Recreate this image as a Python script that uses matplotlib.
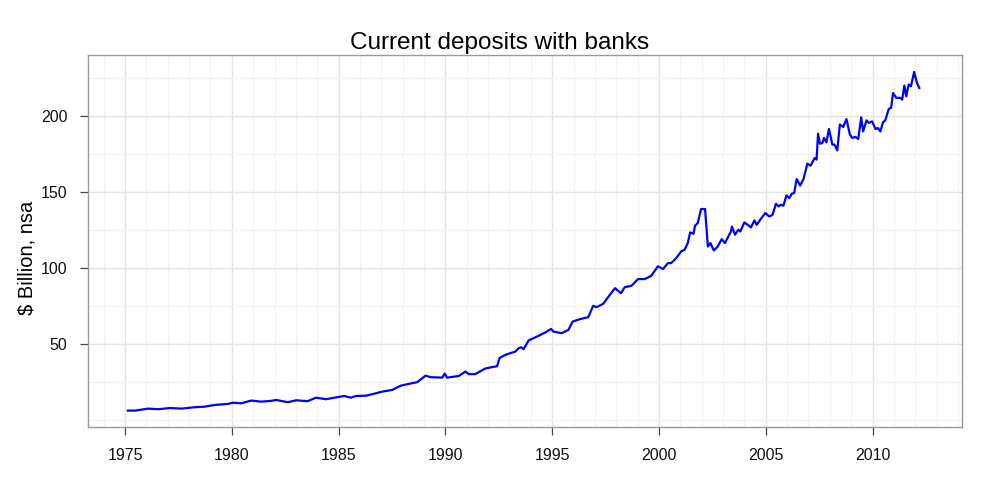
import matplotlib
matplotlib.use("Agg")
import matplotlib.pyplot as plt
from matplotlib.ticker import MultipleLocator

plt.rcParams['font.family'] = ['Liberation Sans', 'DejaVu Sans']

title = "Current deposits with banks"
y_label = "$ Billion, nsa"
x_ticks = [1975, 1980, 1985, 1990, 1995, 2000, 2005, 2010]
y_ticks = [50, 100, 150, 200]

years = [
    1975.13, 1975.47, 1976.09, 1976.55, 1977.10, 1977.64, 1978.26, 1978.73,
    1979.20, 1979.82, 1980.05, 1980.44, 1980.91, 1981.38, 1981.84, 1982.08,
    1982.62, 1983.01, 1983.55, 1983.94, 1984.41, 1984.80, 1985.27, 1985.57,
    1985.81, 1986.27, 1986.58, 1987.05, 1987.51, 1987.91, 1988.29, 1988.68,
    1989.07, 1989.31, 1989.85, 1989.97, 1990.08, 1990.63, 1990.94, 1991.09,
    1991.40, 1991.87, 1992.18, 1992.42, 1992.54, 1992.81, 1993.04, 1993.27,
    1993.43, 1993.55, 1993.66, 1993.90, 1994.28, 1994.67, 1994.95, 1995.06,
    1995.44, 1995.76, 1995.96, 1996.30, 1996.69, 1996.92, 1997.08, 1997.39,
    1997.70, 1997.94, 1998.22, 1998.40, 1998.71, 1999.02, 1999.33, 1999.64,
    1999.95, 2000.19, 2000.42, 2000.57, 2000.81, 2001.04, 2001.20, 2001.35,
    2001.46, 2001.62, 2001.69, 2001.82, 2001.97, 2002.16, 2002.29, 2002.41,
    2002.57, 2002.75, 2002.94, 2003.09, 2003.37, 2003.42, 2003.56, 2003.72,
    2003.81, 2004.00, 2004.31, 2004.47, 2004.58, 2004.74, 2004.98, 2005.16,
    2005.32, 2005.48, 2005.60, 2005.70, 2005.83, 2005.97, 2006.10, 2006.22,
    2006.33, 2006.45, 2006.61, 2006.77, 2006.95, 2007.10, 2007.29, 2007.38,
    2007.45, 2007.54, 2007.65, 2007.73, 2007.84, 2007.96, 2008.12, 2008.22,
    2008.35, 2008.47, 2008.63, 2008.78, 2008.94, 2009.05, 2009.20, 2009.33,
    2009.47, 2009.56, 2009.72, 2009.83, 2009.98, 2010.14, 2010.25, 2010.37,
    2010.49, 2010.60, 2010.76, 2010.87, 2010.96, 2011.11, 2011.30, 2011.39,
    2011.49, 2011.58, 2011.69, 2011.80, 2011.95, 2012.08, 2012.19,
]

deposits = [
    6.3, 6.3, 7.6, 7.2, 8.0, 7.6, 8.5, 8.9,
    10.0, 10.7, 11.5, 11.1, 12.9, 12.2, 12.7, 13.3,
    11.8, 13.1, 12.5, 14.8, 13.8, 14.8, 15.9, 14.8,
    15.9, 16.1, 17.1, 18.8, 19.9, 22.7, 23.9, 25.0,
    29.3, 28.3, 28.0, 30.6, 28.0, 29.1, 32.0, 30.3,
    30.3, 34.0, 34.9, 35.5, 41.0, 43.0, 44.1, 45.1,
    47.4, 48.0, 46.7, 52.5, 55.0, 57.7, 60.1, 58.3,
    57.3, 59.4, 64.9, 66.5, 67.8, 75.3, 74.4, 76.6,
    82.5, 86.9, 83.6, 87.6, 88.4, 92.9, 92.9, 95.0,
    101.3, 99.5, 103.4, 103.4, 106.7, 111.1, 112.2, 116.6,
    123.6, 122.7, 128.0, 129.8, 139.0, 139.0, 114.3, 116.6,
    111.7, 114.3, 119.2, 116.6, 124.2, 127.5, 122.1, 125.4,
    124.2, 130.2, 126.9, 131.5, 128.6, 131.9, 136.4, 134.1,
    135.2, 142.5, 140.7, 141.8, 141.2, 148.0, 146.2, 149.1,
    149.5, 158.8, 154.4, 158.8, 168.9, 167.5, 172.6, 171.5,
    188.6, 182.0, 182.5, 185.8, 182.9, 191.7, 181.4, 181.4,
    177.6, 194.6, 193.0, 198.3, 188.0, 185.8, 186.5, 185.1,
    199.4, 190.1, 197.4, 195.7, 196.7, 191.7, 192.4, 190.1,
    196.1, 197.4, 204.9, 205.6, 215.4, 212.2, 212.2, 211.0,
    220.3, 213.2, 220.9, 219.8, 229.3, 222.0, 218.7,
]

fig = plt.figure(figsize=(10, 5), dpi=100)
ax = fig.add_axes([0.0883, 0.1466, 0.9620 - 0.0883, 0.89 - 0.1466])

ax.plot(years, deposits, color='#0000ff', lw=1.6, solid_joinstyle='round', zorder=3)

ax.set_xlim(1973.28, 2014.19)
ax.set_ylim(-4.3, 240.4)
ax.set_xticks(x_ticks)
ax.set_yticks(y_ticks)
ax.xaxis.set_minor_locator(MultipleLocator(1))
ax.yaxis.set_minor_locator(MultipleLocator(25))

ax.grid(which='major', color='#e4e4e4', lw=1.0, zorder=0)
ax.grid(which='minor', color='#f3f3f3', lw=1.0, zorder=0)
ax.set_axisbelow(True)

for s in ax.spines.values():
    s.set_color('#9a9a9a')
    s.set_linewidth(1.0)

ax.tick_params(which='major', direction='out', length=6, width=0.9, color='#444444',
               labelsize=11.5, labelcolor='#111111')
ax.tick_params(axis='x', which='major', pad=9)
ax.tick_params(axis='y', which='major', pad=9)
ax.tick_params(which='minor', length=0)

fig.text(0.5, 0.901, title, ha='center', va='baseline', fontsize=17.5, color='#000000')
fig.text(0.027, 0.484, y_label, ha='center', va='center', rotation=90, fontsize=14.5,
         color='#000000')

fig.savefig('out.png', dpi=100, facecolor='white')
